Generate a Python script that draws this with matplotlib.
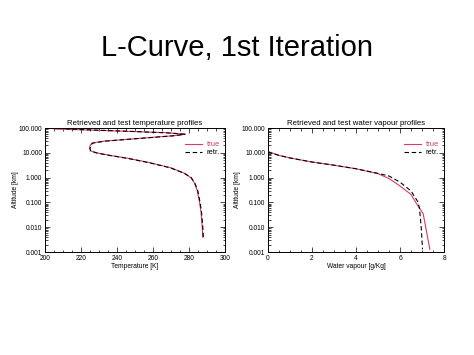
import matplotlib
matplotlib.use('Agg')
import matplotlib.pyplot as plt
from matplotlib.ticker import FixedLocator, MultipleLocator, FuncFormatter, LogLocator, NullFormatter

# ── 데이터 ───────────────────────────────────────────────
# 온도 프로파일 (고도 km, 온도 K)
temp_alt  = [0.004, 0.01, 0.04, 0.1, 0.3, 0.6, 1.0, 1.5, 2.5, 4, 6, 8, 10, 12, 15, 20, 25, 30, 40, 50, 57, 65, 75, 85, 92]
temp_true = [287.5, 287.3, 286.6, 285.8, 284.5, 283.0, 281.0, 277.5, 270.0, 258.5, 246.5, 236.0, 229.0, 225.5, 224.8, 225.0, 226.0, 233.0, 255.0, 272.0, 278.0, 268.0, 245.0, 222.0, 205.0]
temp_retr = [287.9, 287.6, 286.9, 286.1, 284.8, 283.2, 281.2, 277.3, 269.6, 258.0, 246.0, 235.5, 228.5, 225.2, 225.0, 225.3, 226.5, 233.5, 255.5, 272.5, 277.5, 267.0, 245.5, 225.0, 212.0]

# 수증기 프로파일 (고도 km, g/Kg)
wv_alt_true = [11.5, 8.0, 6.3, 4.3, 3.2, 2.3, 1.45, 0.93, 0.46, 0.21, 0.089, 0.035, 0.0013]
wv_true     = [0.0, 0.5, 1.0, 2.0, 3.0, 4.0, 5.0, 5.5, 6.0, 6.5, 6.75, 7.05, 7.35]
wv_alt_retr = [11.0, 8.0, 6.3, 4.3, 3.2, 2.3, 1.5, 1.17, 0.66, 0.29, 0.11, 0.06, 0.01, 0.0013]
wv_retr     = [0.0, 0.5, 1.0, 2.0, 3.0, 4.0, 5.0, 5.5, 6.0, 6.5, 6.8, 6.88, 6.96, 7.02]

alt_ticks = [0.001, 0.01, 0.1, 1, 10, 100]

PINK = '#d8386e'

plt.rcParams['font.family'] = ['Liberation Sans', 'DejaVu Sans']

fig = plt.figure(figsize=(4.74, 3.55), dpi=100)
fig.text(0.5, 0.866, 'L-Curve, 1st Iteration', ha='center', va='center', fontsize=21)

ax1 = fig.add_axes([0.095, 0.290, 0.380, 0.349])
ax2 = fig.add_axes([0.565, 0.290, 0.372, 0.349])


def style_axis(ax):
    ax.set_yscale('log')
    ax.set_ylim(0.001, 100)
    ax.yaxis.set_major_locator(FixedLocator(alt_ticks))
    ax.yaxis.set_major_formatter(FuncFormatter(lambda v, p: f'{v:.3f}'))
    ax.yaxis.set_minor_locator(LogLocator(base=10, subs=range(2, 10), numticks=20))
    ax.yaxis.set_minor_formatter(NullFormatter())
    ax.tick_params(which='both', direction='in', top=True, right=True,
                   labelsize=4.8, width=0.5, pad=2)
    ax.tick_params(which='major', length=3.5)
    ax.tick_params(which='minor', length=1.8)
    for s in ax.spines.values():
        s.set_linewidth(0.7)
    ax.set_ylabel('Altitude [km]', fontsize=4.8, labelpad=0)


# ── 온도 ─────────────────────────────────────────────────
ax1.plot(temp_true, temp_alt, color=PINK, lw=0.8, label='true')
ax1.plot(temp_retr, temp_alt, color='black', lw=0.8, ls=(0, (4, 2.5)), label='retr.')
ax1.set_xlim(200, 300)
ax1.xaxis.set_major_locator(MultipleLocator(20))
ax1.xaxis.set_minor_locator(MultipleLocator(5))
style_axis(ax1)
ax1.set_xlabel('Temperature [K]', fontsize=4.8, labelpad=1)
ax1.set_title('Retrieved and test temperature profiles', fontsize=5.6, pad=2)

# ── 수증기 ───────────────────────────────────────────────
ax2.plot(wv_true, wv_alt_true, color=PINK, lw=0.8, label='true')
ax2.plot(wv_retr, wv_alt_retr, color='black', lw=0.8, ls=(0, (4, 2.5)), label='retr.')
ax2.set_xlim(0, 8)
ax2.xaxis.set_major_locator(MultipleLocator(2))
ax2.xaxis.set_minor_locator(MultipleLocator(0.5))
style_axis(ax2)
ax2.set_xlabel('Water vapour [g/Kg]', fontsize=4.8, labelpad=1)
ax2.set_title('Retrieved and test water vapour profiles', fontsize=5.6, pad=2)

for ax in (ax1, ax2):
    leg = ax.legend(loc='upper right', bbox_to_anchor=(1.0, 0.94), frameon=False,
                    fontsize=5.5, handlelength=2.2, handletextpad=0.6,
                    labelspacing=0.1, borderaxespad=0.3)
    leg.get_texts()[0].set_color(PINK)

fig.savefig('out.png', dpi=100)
